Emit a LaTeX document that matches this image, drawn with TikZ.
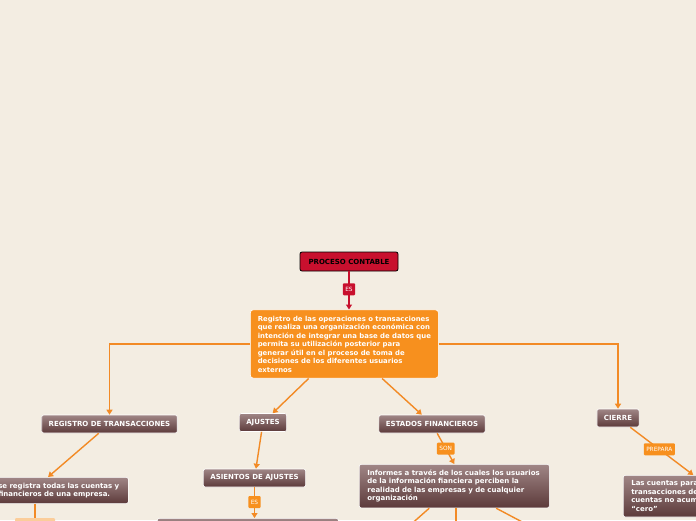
\documentclass[tikz,border=0pt]{standalone}
\usepackage{fontspec}
\setmainfont{DejaVu Sans}
\usetikzlibrary{arrows.meta}

\definecolor{paper}{HTML}{F3EDE2}
\definecolor{wire}{HTML}{F28A25}
\definecolor{crimson}{HTML}{C8102E}
\definecolor{mainorange}{HTML}{F7901E}
\definecolor{mauvetop}{HTML}{A08686}
\definecolor{mauvebot}{HTML}{5C3A3A}

\tikzset{
  topic/.style={rounded corners=2pt, draw=white, line width=0.6pt, top color=mauvetop, bottom color=mauvebot, text=white, font=\bfseries\fontsize{7}{8.5}\selectfont, inner xsep=7pt, inner ysep=0pt, minimum height=18pt},
  textbox/.style={topic, anchor=north west, align=left, inner xsep=8pt, inner ysep=5.5pt, minimum height=0pt},
  core/.style={anchor=north west, align=left, fill=mainorange, draw=white, line width=0.6pt, rounded corners=3pt, text=white, font=\bfseries\fontsize{6.9}{8.5}\selectfont, inner xsep=7.5pt, inner ysep=6pt},
  link/.style={draw=wire, line width=1.4pt, -{Triangle[length=5pt,width=6pt]}},
  tag/.style={fill=mainorange, text=white, font=\fontsize{5.8}{6}\selectfont, inner xsep=2.5pt, inner ysep=0pt, minimum height=12pt, rounded corners=1pt}
}

\begin{document}
\begin{tikzpicture}[x=1pt, y=-1pt]

  \fill[paper] (0,0) rectangle (696,520);
  \useasboundingbox (0,0) rectangle (696,520);

  % Main topic
  \node[draw=black, line width=0.8pt, fill=crimson, rounded corners=2pt, font=\bfseries\fontsize{7}{8}\selectfont, minimum width=98pt, minimum height=19pt] (proc) at (349,261.5) {PROCESO CONTABLE};
  \node[core] (core) at (250,309.5) {Registro de las operaciones o transacciones\\que realiza una organización económica con\\intención de integrar una base de datos que\\permita su utilización posterior para\\generar útil en el proceso de toma de\\decisiones de los diferentes usuarios\\externos};
  \draw[link, draw=crimson] (proc) -- node[tag, fill=crimson, pos=0.47] (es1) {ES} (proc |- core.north);

  % Branches
  \node[topic] (reg) at (109.5,424) {REGISTRO DE TRANSACCIONES};
  \node[topic] (ajus) at (263,422.5) {AJUSTES};
  \node[topic] (est) at (432,424) {ESTADOS FINANCIEROS};
  \node[topic] (cierre) at (618,418) {CIERRE};

  \draw[link] (core.west) -| (reg.north);
  \draw[link] (core) -- (ajus);
  \draw[link] (core) -- (est);
  \draw[link] (core.east) -| (cierre.north);

  % Registro de transacciones
  \node[textbox, text width=122pt] (regtext) at (-10,477) {se registra todas las cuentas y\\financieros de una empresa.};
  \draw[link] (reg) -- (regtext.130);
  \node[tag, fill=mainorange!45, minimum width=40pt] (reglow) at (35,524) {};
  \draw[draw=wire, line width=1.4pt] (reglow |- regtext.south) -- (reglow);

  % Ajustes
  \node[topic] (asien) at (254.5,478) {ASIENTOS DE AJUSTES};
  \draw[link] (ajus) -- (asien);
  \node[topic, anchor=north west, minimum width=181pt, minimum height=20pt] (asiendef) at (157,518) {};
  \draw[link] (asien) -- node[tag, pos=0.48] (es2) {ES} (asien |- asiendef.north);

  % Estados financieros
  \node[textbox, text width=174pt] (inf) at (359,464) {Informes a través de los cuales los usuarios\\de la información fianciera perciben la\\realidad de las empresas y de cualquier\\organización};
  \draw[link] (est) -- node[tag, pos=0.5] (son) {SON} (inf.north);
  \coordinate (inf1) at (400,534);
  \coordinate (inf2) at (456,534);
  \coordinate (inf3) at (545,534);
  \draw[draw=wire, line width=1.4pt] (inf) -- (inf1);
  \draw[draw=wire, line width=1.4pt] (inf.south -| inf2) -- (inf2);
  \draw[draw=wire, line width=1.4pt] (inf) -- (inf3);

  % Cierre
  \node[textbox, text width=124pt] (cuentas) at (623,475) {Las cuentas para\\transacciones de\\cuentas no acum\\``cero''};
  \draw[link] (cierre) -- node[tag, pos=0.46] (prep) {PREPARA} (cuentas.north);

\end{tikzpicture}
\end{document}
